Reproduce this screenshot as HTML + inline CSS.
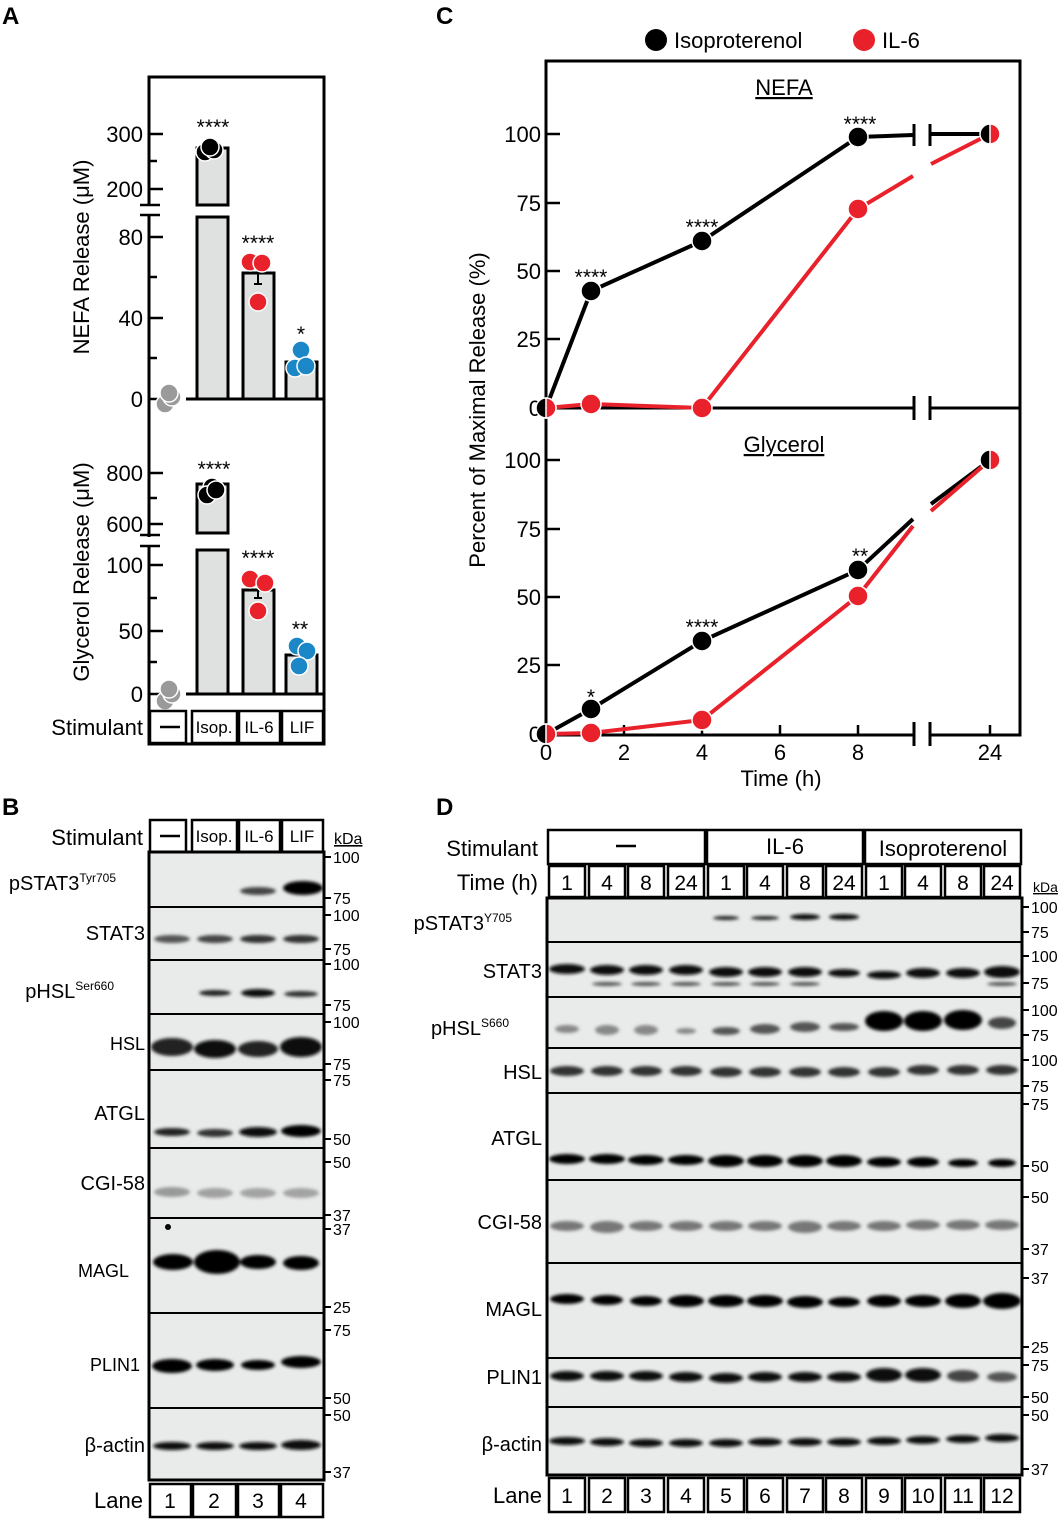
<!DOCTYPE html>
<html><head><meta charset="utf-8"><style>
html,body{margin:0;padding:0;background:#fff}
svg{display:block;font-family:"Liberation Sans",Arial,sans-serif}
</style></head><body>
<svg width="1063" height="1519" viewBox="0 0 1063 1519" xmlns="http://www.w3.org/2000/svg">
<defs>
<filter id="bl" x="-20%" y="-100%" width="140%" height="300%"><feGaussianBlur stdDeviation="1.6"/></filter>
</defs>
<g font-weight="bold" font-size="24">
<text x="2" y="24">A</text><text x="436" y="24">C</text><text x="2" y="815">B</text><text x="436" y="815">D</text>
</g>

<!-- ========== PANEL A ========== -->
<g>
<rect x="149" y="77" width="175" height="667" fill="none" stroke="#000" stroke-width="3"/>
<g fill="#dfe1e1" stroke="#000" stroke-width="3">
<rect x="197" y="148" width="31" height="57"/>
<rect x="197" y="217" width="31" height="182"/>
<rect x="243" y="273" width="31" height="126"/>
<rect x="286" y="362" width="31" height="37"/>
<rect x="197" y="484" width="31" height="49"/>
<rect x="197" y="550" width="31" height="144"/>
<rect x="243" y="590" width="31" height="104"/>
<rect x="286" y="655" width="31" height="39"/>
</g>
<line x1="186" y1="399" x2="324" y2="399" stroke="#000" stroke-width="3"/>
<line x1="186" y1="694" x2="324" y2="694" stroke="#000" stroke-width="3"/>
<rect x="140" y="206" width="20" height="8" fill="#fff"/>
<line x1="140" y1="205" x2="160" y2="205" stroke="#000" stroke-width="2.5"/>
<line x1="140" y1="215" x2="160" y2="215" stroke="#000" stroke-width="2.5"/>
<rect x="140" y="537" width="20" height="8" fill="#fff"/>
<line x1="140" y1="535" x2="160" y2="535" stroke="#000" stroke-width="2.5"/>
<line x1="140" y1="546" x2="160" y2="546" stroke="#000" stroke-width="2.5"/>
<g stroke="#000" stroke-width="2.5">
<line x1="149" y1="134" x2="163" y2="134"/><line x1="149" y1="161" x2="157" y2="161"/><line x1="149" y1="189" x2="163" y2="189"/>
<line x1="149" y1="237" x2="163" y2="237"/><line x1="149" y1="277" x2="157" y2="277"/><line x1="149" y1="318" x2="163" y2="318"/><line x1="149" y1="358" x2="157" y2="358"/><line x1="149" y1="399" x2="163" y2="399"/>
<line x1="149" y1="473" x2="163" y2="473"/><line x1="149" y1="498" x2="157" y2="498"/><line x1="149" y1="524" x2="163" y2="524"/>
<line x1="149" y1="565" x2="163" y2="565"/><line x1="149" y1="598" x2="157" y2="598"/><line x1="149" y1="631" x2="163" y2="631"/><line x1="149" y1="662" x2="157" y2="662"/><line x1="149" y1="694" x2="163" y2="694"/>
</g>
<g font-size="22" text-anchor="end">
<text x="143" y="142">300</text><text x="143" y="197">200</text><text x="143" y="245">80</text><text x="143" y="326">40</text><text x="143" y="407">0</text>
<text x="143" y="481">800</text><text x="143" y="532">600</text><text x="143" y="573">100</text><text x="143" y="639">50</text><text x="143" y="702">0</text>
</g>
<text transform="translate(89,257) rotate(-90)" font-size="22" text-anchor="middle">NEFA Release (μM)</text>
<text transform="translate(89,572) rotate(-90)" font-size="22" text-anchor="middle">Glycerol Release (μM)</text>
<g stroke="#fff" stroke-width="1.5">
<circle cx="165" cy="404" r="9" fill="#9a9a9a"/><circle cx="172" cy="397" r="9" fill="#9a9a9a"/><circle cx="169" cy="393" r="9" fill="#9a9a9a"/>
<circle cx="205" cy="152" r="9" fill="#000"/><circle cx="214" cy="150" r="9" fill="#000"/><circle cx="210" cy="147" r="9" fill="#000"/>
<circle cx="250" cy="262" r="9" fill="#e8212b"/><circle cx="262" cy="263" r="9" fill="#e8212b"/><circle cx="258" cy="302" r="9" fill="#e8212b"/>
<circle cx="301" cy="350" r="9" fill="#1b87c6"/><circle cx="295" cy="368" r="9" fill="#1b87c6"/><circle cx="306" cy="366" r="9" fill="#1b87c6"/>
<circle cx="165" cy="701" r="9" fill="#9a9a9a"/><circle cx="172" cy="694" r="9" fill="#9a9a9a"/><circle cx="169" cy="689" r="9" fill="#9a9a9a"/>
<circle cx="212" cy="487" r="9" fill="#000"/><circle cx="207" cy="495" r="9" fill="#000"/><circle cx="216" cy="490" r="9" fill="#000"/>
<circle cx="250" cy="579" r="9" fill="#e8212b"/><circle cx="265" cy="583" r="9" fill="#e8212b"/><circle cx="258" cy="611" r="9" fill="#e8212b"/>
<circle cx="297" cy="646" r="9" fill="#1b87c6"/><circle cx="307" cy="651" r="9" fill="#1b87c6"/><circle cx="299" cy="666" r="9" fill="#1b87c6"/>
</g>
<g stroke="#000" stroke-width="2"><line x1="258" y1="273" x2="258" y2="284"/><line x1="254" y1="284" x2="262" y2="284"/><line x1="258" y1="590" x2="258" y2="598"/><line x1="254" y1="598" x2="262" y2="598"/></g>
<g font-size="21" text-anchor="middle">
<text x="213" y="134">****</text><text x="258" y="250">****</text><text x="301" y="341">*</text>
<text x="214" y="476">****</text><text x="258" y="565">****</text><text x="300" y="636">**</text>
</g>
<g fill="none" stroke="#000" stroke-width="2.5">
<rect x="150" y="711" width="36" height="32"/><rect x="192" y="711" width="45" height="32"/><rect x="239" y="711" width="41" height="32"/><rect x="282" y="711" width="41" height="32"/>
</g>
<line x1="160" y1="727" x2="180" y2="727" stroke="#000" stroke-width="2.5"/>
<text x="143" y="735" font-size="22" text-anchor="end">Stimulant</text>
<g font-size="17" text-anchor="middle"><text x="214" y="733">Isop.</text><text x="259" y="733">IL-6</text><text x="302" y="733">LIF</text></g>
</g>

<!-- ========== PANEL C ========== -->
<g>
<circle cx="656" cy="40" r="11" fill="#000"/><text x="674" y="48" font-size="22">Isoproterenol</text>
<circle cx="864" cy="40" r="11" fill="#e8212b"/><text x="882" y="48" font-size="22">IL-6</text>
<rect x="546" y="61" width="474" height="674" fill="none" stroke="#000" stroke-width="3"/>
<line x1="546" y1="408" x2="1020" y2="408" stroke="#000" stroke-width="3"/>
<rect x="913" y="395" width="18" height="26" fill="#fff"/><rect x="913" y="722" width="18" height="26" fill="#fff"/>
<g stroke="#000" stroke-width="3">
<line x1="914" y1="396" x2="914" y2="420"/><line x1="930" y1="396" x2="930" y2="420"/>
<line x1="914" y1="722" x2="914" y2="746"/><line x1="930" y1="722" x2="930" y2="746"/>
<line x1="914" y1="124" x2="914" y2="146"/><line x1="930" y1="124" x2="930" y2="146"/>
</g>
<g stroke="#000" stroke-width="2.5">
<line x1="546" y1="134" x2="560" y2="134"/><line x1="546" y1="203" x2="560" y2="203"/><line x1="546" y1="271" x2="560" y2="271"/><line x1="546" y1="339" x2="560" y2="339"/>
<line x1="546" y1="460" x2="560" y2="460"/><line x1="546" y1="529" x2="560" y2="529"/><line x1="546" y1="597" x2="560" y2="597"/><line x1="546" y1="665" x2="560" y2="665"/>
<line x1="624" y1="735" x2="624" y2="725"/><line x1="702" y1="735" x2="702" y2="725"/><line x1="780" y1="735" x2="780" y2="725"/><line x1="858" y1="735" x2="858" y2="725"/><line x1="990" y1="735" x2="990" y2="725"/>
</g>
<g font-size="22" text-anchor="end">
<text x="541" y="142">100</text><text x="541" y="211">75</text><text x="541" y="279">50</text><text x="541" y="347">25</text><text x="541" y="416">0</text>
<text x="541" y="468">100</text><text x="541" y="537">75</text><text x="541" y="605">50</text><text x="541" y="673">25</text><text x="541" y="742">0</text>
</g>
<g font-size="22" text-anchor="middle">
<text x="546" y="760">0</text><text x="624" y="760">2</text><text x="702" y="760">4</text><text x="780" y="760">6</text><text x="858" y="760">8</text><text x="990" y="760">24</text>
<text x="781" y="786">Time (h)</text>
<text x="784" y="95" text-decoration="underline">NEFA</text>
<text x="784" y="452" text-decoration="underline">Glycerol</text>
</g>
<text transform="translate(485,410) rotate(-90)" font-size="22" text-anchor="middle">Percent of Maximal Release (%)</text>
<g fill="none" stroke-width="4">
<polyline points="546,408 591,291 702,241 858,137 913,135" stroke="#000"/>
<polyline points="931,134 990,134" stroke="#000"/>
<polyline points="546,408 591,404 702,408 858,209 913,176" stroke="#e8212b"/>
<polyline points="931,164 990,134" stroke="#e8212b"/>
<polyline points="546,734 591,709 702,641 858,570 913,519" stroke="#000"/>
<polyline points="931,504 990,460" stroke="#000"/>
<polyline points="546,734 591,733 702,720 858,596 913,526" stroke="#e8212b"/>
<polyline points="931,511 990,460" stroke="#e8212b"/>
</g>
<g stroke="#000" stroke-width="2">
<line x1="858" y1="128" x2="858" y2="146"/><line x1="702" y1="233" x2="702" y2="250"/><line x1="858" y1="200" x2="858" y2="219"/><line x1="990" y1="126" x2="990" y2="143"/>
<line x1="702" y1="632" x2="702" y2="651"/><line x1="858" y1="561" x2="858" y2="579"/><line x1="858" y1="587" x2="858" y2="606"/><line x1="990" y1="451" x2="990" y2="470"/>
<line x1="591" y1="395" x2="591" y2="413"/><line x1="702" y1="711" x2="702" y2="729"/>
</g>
<g stroke="#fff" stroke-width="1.5">
<circle cx="591" cy="291" r="10" fill="#000"/><circle cx="702" cy="241" r="10" fill="#000"/><circle cx="858" cy="137" r="10" fill="#000"/>
<circle cx="591" cy="404" r="10" fill="#e8212b"/><circle cx="702" cy="408" r="10" fill="#e8212b"/><circle cx="858" cy="209" r="10" fill="#e8212b"/>
<circle cx="546" cy="408" r="10" fill="#000"/><path d="M546,398 A10,10 0 0 1 546,418 Z" fill="#e8212b"/>
<circle cx="990" cy="134" r="10" fill="#000"/><path d="M990,124 A10,10 0 0 1 990,144 Z" fill="#e8212b"/>
<circle cx="591" cy="709" r="10" fill="#000"/><circle cx="702" cy="641" r="10" fill="#000"/><circle cx="858" cy="570" r="10" fill="#000"/>
<circle cx="591" cy="733" r="10" fill="#e8212b"/><circle cx="702" cy="720" r="10" fill="#e8212b"/><circle cx="858" cy="596" r="10" fill="#e8212b"/>
<circle cx="546" cy="734" r="10" fill="#000"/><path d="M546,724 A10,10 0 0 1 546,744 Z" fill="#e8212b"/>
<circle cx="990" cy="460" r="10" fill="#000"/><path d="M990,450 A10,10 0 0 1 990,470 Z" fill="#e8212b"/>
</g>
<g font-size="21" text-anchor="middle">
<text x="591" y="284">****</text><text x="702" y="234">****</text><text x="860" y="131">****</text>
<text x="591" y="704">*</text><text x="702" y="634">****</text><text x="860" y="563">**</text>
</g>
</g>

<!-- ========== PANEL B ========== -->
<g>
<rect x="149" y="852" width="175" height="628" fill="#e9ebeb"/>
<g fill="none" stroke="#000" stroke-width="2.5">
<rect x="150" y="820" width="36" height="32"/><rect x="192" y="820" width="45" height="32"/><rect x="239" y="820" width="41" height="32"/><rect x="282" y="820" width="41" height="32"/>
<rect x="149" y="852" width="175" height="628" stroke-width="3"/>
<rect x="150" y="1484" width="41" height="33"/><rect x="193" y="1484" width="43" height="33"/><rect x="238" y="1484" width="41" height="33"/><rect x="281" y="1484" width="42" height="33"/>
</g>
<g stroke="#000" stroke-width="2">
<line x1="149" y1="907" x2="324" y2="907"/><line x1="149" y1="960" x2="324" y2="960"/><line x1="149" y1="1014" x2="324" y2="1014"/><line x1="149" y1="1070" x2="324" y2="1070"/>
<line x1="149" y1="1148" x2="324" y2="1148"/><line x1="149" y1="1218" x2="324" y2="1218"/><line x1="149" y1="1313" x2="324" y2="1313"/><line x1="149" y1="1408" x2="324" y2="1408"/>
</g>
<line x1="160" y1="836" x2="180" y2="836" stroke="#000" stroke-width="2.5"/>
<g font-size="17" text-anchor="middle"><text x="214" y="842">Isop.</text><text x="259" y="842">IL-6</text><text x="302" y="842">LIF</text>
<text x="170" y="1508" font-size="21">1</text><text x="214" y="1508" font-size="21">2</text><text x="258" y="1508" font-size="21">3</text><text x="301" y="1508" font-size="21">4</text></g>
<g font-size="22" text-anchor="end"><text x="143" y="845">Stimulant</text><text x="143" y="1508">Lane</text></g>
<g font-size="20" text-anchor="end">
<text x="116" y="890">pSTAT3<tspan font-size="12" dy="-8">Tyr705</tspan></text>
<text x="145" y="940">STAT3</text>
<text x="114" y="998">pHSL<tspan font-size="12" dy="-8">Ser660</tspan></text>
<text x="145" y="1050" font-size="18">HSL</text>
<text x="145" y="1120">ATGL</text>
<text x="145" y="1190">CGI-58</text>
<text x="129" y="1277" font-size="18">MAGL</text>
<text x="140" y="1371" font-size="18">PLIN1</text>
<text x="145" y="1452">β-actin</text>
</g>
<g filter="url(#bl)">
<ellipse cx="258" cy="891" rx="18" ry="4" fill="#444"/><ellipse cx="303" cy="888" rx="20" ry="7" fill="#000"/>
<ellipse cx="172" cy="939" rx="18" ry="4" fill="#555"/><ellipse cx="215" cy="939" rx="18" ry="4" fill="#444"/><ellipse cx="258" cy="939" rx="18" ry="4" fill="#333"/><ellipse cx="301" cy="939" rx="18" ry="4" fill="#333"/>
<ellipse cx="215" cy="993" rx="16" ry="3" fill="#222"/><ellipse cx="258" cy="993" rx="17" ry="4" fill="#111"/><ellipse cx="301" cy="994" rx="17" ry="3" fill="#333"/>
<ellipse cx="172" cy="1047" rx="21" ry="9" fill="#222"/><ellipse cx="215" cy="1049" rx="21" ry="9" fill="#111"/><ellipse cx="258" cy="1049" rx="20" ry="8" fill="#222"/><ellipse cx="301" cy="1047" rx="21" ry="10" fill="#111"/>
<ellipse cx="172" cy="1132" rx="18" ry="4" fill="#222"/><ellipse cx="215" cy="1133" rx="18" ry="4" fill="#333"/><ellipse cx="258" cy="1132" rx="19" ry="5" fill="#111"/><ellipse cx="301" cy="1131" rx="20" ry="6" fill="#000"/>
<ellipse cx="172" cy="1192" rx="18" ry="5" fill="#999"/><ellipse cx="215" cy="1193" rx="18" ry="5" fill="#a0a0a0"/><ellipse cx="258" cy="1193" rx="18" ry="5" fill="#a3a3a3"/><ellipse cx="301" cy="1193" rx="18" ry="5" fill="#a3a3a3"/>
<ellipse cx="173" cy="1262" rx="20" ry="8" fill="#000"/><ellipse cx="217" cy="1262" rx="23" ry="12" fill="#000"/><ellipse cx="258" cy="1262" rx="18" ry="7" fill="#000"/><ellipse cx="301" cy="1263" rx="18" ry="7" fill="#000"/>
<ellipse cx="172" cy="1366" rx="20" ry="7" fill="#000"/><ellipse cx="215" cy="1365" rx="19" ry="6" fill="#000"/><ellipse cx="258" cy="1365" rx="17" ry="5" fill="#000"/><ellipse cx="301" cy="1362" rx="20" ry="6" fill="#000"/>
<ellipse cx="172" cy="1446" rx="19" ry="4" fill="#111"/><ellipse cx="215" cy="1446" rx="19" ry="4" fill="#111"/><ellipse cx="258" cy="1446" rx="19" ry="4" fill="#111"/><ellipse cx="301" cy="1445" rx="20" ry="5" fill="#111"/>
</g>
<circle cx="168" cy="1227" r="3" fill="#000"/>
<g stroke="#000" stroke-width="2">
<line x1="324" y1="857" x2="331" y2="857"/><line x1="324" y1="898" x2="331" y2="898"/><line x1="324" y1="915" x2="331" y2="915"/><line x1="324" y1="949" x2="331" y2="949"/>
<line x1="324" y1="964" x2="331" y2="964"/><line x1="324" y1="1005" x2="331" y2="1005"/><line x1="324" y1="1022" x2="331" y2="1022"/><line x1="324" y1="1064" x2="331" y2="1064"/>
<line x1="324" y1="1080" x2="331" y2="1080"/><line x1="324" y1="1139" x2="331" y2="1139"/><line x1="324" y1="1162" x2="331" y2="1162"/><line x1="324" y1="1215" x2="331" y2="1215"/>
<line x1="324" y1="1229" x2="331" y2="1229"/><line x1="324" y1="1307" x2="331" y2="1307"/><line x1="324" y1="1330" x2="331" y2="1330"/><line x1="324" y1="1398" x2="331" y2="1398"/>
<line x1="324" y1="1415" x2="331" y2="1415"/><line x1="324" y1="1472" x2="331" y2="1472"/>
</g>
<g font-size="16">
<text x="334" y="844" text-decoration="underline">kDa</text>
<text x="333" y="863">100</text><text x="333" y="904">75</text><text x="333" y="921">100</text><text x="333" y="955">75</text><text x="333" y="970">100</text><text x="333" y="1011">75</text>
<text x="333" y="1028">100</text><text x="333" y="1070">75</text><text x="333" y="1086">75</text><text x="333" y="1145">50</text><text x="333" y="1168">50</text><text x="333" y="1221">37</text>
<text x="333" y="1235">37</text><text x="333" y="1313">25</text><text x="333" y="1336">75</text><text x="333" y="1404">50</text><text x="333" y="1421">50</text><text x="333" y="1478">37</text>
</g>
</g>

<!-- ========== PANEL D ========== -->
<g>
<rect x="547" y="898" width="475" height="577" fill="#e9ebeb"/>
<g fill="none" stroke="#000" stroke-width="2.5">
<rect x="548" y="830" width="157" height="34"/><rect x="707" y="830" width="156" height="34"/><rect x="865" y="830" width="156" height="34"/>
<rect x="547" y="898" width="475" height="577" stroke-width="3"/>
</g>
<g font-size="22" text-anchor="end"><text x="538" y="856">Stimulant</text><text x="538" y="890">Time (h)</text><text x="542" y="1503">Lane</text></g>
<line x1="616" y1="846" x2="636" y2="846" stroke="#000" stroke-width="2.5"/>
<g font-size="22" text-anchor="middle"><text x="785" y="854">IL-6</text><text x="943" y="856">Isoproterenol</text></g>
<g fill="none" stroke="#000" stroke-width="2.5">
<rect x="549" y="866" width="36" height="31"/><rect x="589" y="866" width="36" height="31"/><rect x="628" y="866" width="36" height="31"/><rect x="668" y="866" width="36" height="31"/>
<rect x="708" y="866" width="36" height="31"/><rect x="747" y="866" width="36" height="31"/><rect x="787" y="866" width="36" height="31"/><rect x="826" y="866" width="36" height="31"/>
<rect x="866" y="866" width="36" height="31"/><rect x="905" y="866" width="36" height="31"/><rect x="945" y="866" width="36" height="31"/><rect x="984" y="866" width="36" height="31"/>
<rect x="549" y="1478" width="36" height="34"/><rect x="589" y="1478" width="36" height="34"/><rect x="628" y="1478" width="36" height="34"/><rect x="668" y="1478" width="36" height="34"/>
<rect x="708" y="1478" width="36" height="34"/><rect x="747" y="1478" width="36" height="34"/><rect x="787" y="1478" width="36" height="34"/><rect x="826" y="1478" width="36" height="34"/>
<rect x="866" y="1478" width="36" height="34"/><rect x="905" y="1478" width="36" height="34"/><rect x="945" y="1478" width="36" height="34"/><rect x="984" y="1478" width="36" height="34"/>
</g>
<g font-size="21" text-anchor="middle">
<text x="567" y="890">1</text><text x="607" y="890">4</text><text x="646" y="890">8</text><text x="686" y="890">24</text>
<text x="726" y="890">1</text><text x="765" y="890">4</text><text x="805" y="890">8</text><text x="844" y="890">24</text>
<text x="884" y="890">1</text><text x="923" y="890">4</text><text x="963" y="890">8</text><text x="1002" y="890">24</text>
<text x="567" y="1503">1</text><text x="607" y="1503">2</text><text x="646" y="1503">3</text><text x="686" y="1503">4</text>
<text x="726" y="1503">5</text><text x="765" y="1503">6</text><text x="805" y="1503">7</text><text x="844" y="1503">8</text>
<text x="884" y="1503">9</text><text x="923" y="1503">10</text><text x="963" y="1503">11</text><text x="1002" y="1503">12</text>
</g>
<g stroke="#000" stroke-width="2">
<line x1="547" y1="942" x2="1022" y2="942"/><line x1="547" y1="997" x2="1022" y2="997"/><line x1="547" y1="1048" x2="1022" y2="1048"/><line x1="547" y1="1093" x2="1022" y2="1093"/>
<line x1="547" y1="1180" x2="1022" y2="1180"/><line x1="547" y1="1263" x2="1022" y2="1263"/><line x1="547" y1="1358" x2="1022" y2="1358"/><line x1="547" y1="1407" x2="1022" y2="1407"/>
</g>
<g font-size="20" text-anchor="end">
<text x="512" y="930">pSTAT3<tspan font-size="12" dy="-8">Y705</tspan></text>
<text x="542" y="978">STAT3</text>
<text x="509" y="1035">pHSL<tspan font-size="12" dy="-8">S660</tspan></text>
<text x="542" y="1079">HSL</text>
<text x="542" y="1145">ATGL</text>
<text x="542" y="1229">CGI-58</text>
<text x="542" y="1316">MAGL</text>
<text x="542" y="1384">PLIN1</text>
<text x="542" y="1451">β-actin</text>
</g>
<g filter="url(#bl)">
<ellipse cx="726" cy="918" rx="13" ry="2" fill="#222"/><ellipse cx="765" cy="918" rx="14" ry="2" fill="#222"/><ellipse cx="805" cy="917" rx="15" ry="3" fill="#111"/><ellipse cx="844" cy="917" rx="15" ry="3" fill="#111"/>
<g fill="#111">
<ellipse cx="567" cy="969" rx="18" ry="5"/><ellipse cx="607" cy="970" rx="17" ry="5"/><ellipse cx="646" cy="970" rx="17" ry="5"/><ellipse cx="686" cy="970" rx="17" ry="5"/>
<ellipse cx="726" cy="972" rx="17" ry="5"/><ellipse cx="765" cy="972" rx="17" ry="5"/><ellipse cx="805" cy="972" rx="17" ry="5"/><ellipse cx="844" cy="973" rx="16" ry="4"/>
<ellipse cx="884" cy="975" rx="17" ry="4"/><ellipse cx="923" cy="973" rx="17" ry="5"/><ellipse cx="963" cy="973" rx="17" ry="5"/><ellipse cx="1002" cy="972" rx="18" ry="6"/>
</g>
<g fill="#555">
<ellipse cx="607" cy="984" rx="15" ry="2"/><ellipse cx="646" cy="984" rx="15" ry="2"/><ellipse cx="686" cy="984" rx="15" ry="2"/><ellipse cx="726" cy="984" rx="15" ry="2"/><ellipse cx="765" cy="984" rx="15" ry="2"/><ellipse cx="805" cy="984" rx="15" ry="2"/><ellipse cx="1002" cy="984" rx="15" ry="2"/>
</g>
<g fill="#888">
<ellipse cx="567" cy="1029" rx="12" ry="4"/><ellipse cx="607" cy="1030" rx="12" ry="5"/><ellipse cx="646" cy="1030" rx="12" ry="5"/><ellipse cx="686" cy="1031" rx="10" ry="3"/>
</g>
<g fill="#555">
<ellipse cx="726" cy="1031" rx="14" ry="4"/><ellipse cx="765" cy="1029" rx="15" ry="5"/><ellipse cx="805" cy="1027" rx="15" ry="5"/><ellipse cx="844" cy="1027" rx="15" ry="4"/>
</g>
<g fill="#000">
<ellipse cx="884" cy="1021" rx="19" ry="10"/><ellipse cx="923" cy="1021" rx="19" ry="10"/><ellipse cx="963" cy="1020" rx="19" ry="10"/>
</g>
<ellipse cx="1002" cy="1023" rx="14" ry="6" fill="#444"/>
<g fill="#333">
<ellipse cx="567" cy="1071" rx="17" ry="5"/><ellipse cx="607" cy="1071" rx="16" ry="5"/><ellipse cx="646" cy="1071" rx="16" ry="5"/><ellipse cx="686" cy="1071" rx="16" ry="5"/>
<ellipse cx="726" cy="1072" rx="16" ry="5"/><ellipse cx="765" cy="1072" rx="16" ry="5"/><ellipse cx="805" cy="1072" rx="16" ry="5"/><ellipse cx="844" cy="1072" rx="16" ry="5"/>
<ellipse cx="884" cy="1072" rx="16" ry="5"/><ellipse cx="923" cy="1070" rx="16" ry="5"/><ellipse cx="963" cy="1070" rx="16" ry="5"/><ellipse cx="1002" cy="1070" rx="16" ry="5"/>
</g>
<g fill="#000">
<ellipse cx="567" cy="1159" rx="18" ry="5"/><ellipse cx="607" cy="1159" rx="18" ry="5"/><ellipse cx="646" cy="1160" rx="18" ry="5"/><ellipse cx="686" cy="1160" rx="18" ry="5"/>
<ellipse cx="726" cy="1161" rx="18" ry="6"/><ellipse cx="765" cy="1161" rx="18" ry="6"/><ellipse cx="805" cy="1161" rx="18" ry="6"/><ellipse cx="844" cy="1161" rx="18" ry="6"/>
<ellipse cx="884" cy="1162" rx="17" ry="5"/><ellipse cx="923" cy="1162" rx="16" ry="5"/><ellipse cx="963" cy="1163" rx="15" ry="4"/><ellipse cx="1002" cy="1163" rx="14" ry="4"/>
</g>
<g fill="#777">
<ellipse cx="567" cy="1226" rx="17" ry="5"/><ellipse cx="607" cy="1227" rx="17" ry="6"/><ellipse cx="646" cy="1226" rx="17" ry="5"/><ellipse cx="686" cy="1226" rx="17" ry="5"/>
<ellipse cx="726" cy="1226" rx="17" ry="5"/><ellipse cx="765" cy="1226" rx="17" ry="5"/><ellipse cx="805" cy="1227" rx="17" ry="6"/><ellipse cx="844" cy="1226" rx="17" ry="5"/>
<ellipse cx="884" cy="1226" rx="17" ry="5"/><ellipse cx="923" cy="1225" rx="17" ry="5"/><ellipse cx="963" cy="1225" rx="17" ry="5"/><ellipse cx="1002" cy="1225" rx="17" ry="5"/>
</g>
<g fill="#000">
<ellipse cx="567" cy="1299" rx="17" ry="5"/><ellipse cx="607" cy="1300" rx="16" ry="5"/><ellipse cx="646" cy="1301" rx="16" ry="5"/><ellipse cx="686" cy="1301" rx="18" ry="6"/>
<ellipse cx="726" cy="1301" rx="18" ry="6"/><ellipse cx="765" cy="1301" rx="18" ry="6"/><ellipse cx="805" cy="1302" rx="18" ry="6"/><ellipse cx="844" cy="1302" rx="16" ry="5"/>
<ellipse cx="884" cy="1301" rx="17" ry="6"/><ellipse cx="923" cy="1301" rx="18" ry="6"/><ellipse cx="963" cy="1301" rx="18" ry="7"/><ellipse cx="1002" cy="1301" rx="19" ry="8"/>
</g>
<g fill="#111">
<ellipse cx="567" cy="1376" rx="17" ry="5"/><ellipse cx="607" cy="1376" rx="17" ry="5"/><ellipse cx="646" cy="1376" rx="17" ry="5"/><ellipse cx="686" cy="1377" rx="17" ry="5"/>
<ellipse cx="726" cy="1378" rx="17" ry="5"/><ellipse cx="765" cy="1377" rx="17" ry="5"/><ellipse cx="805" cy="1377" rx="17" ry="5"/><ellipse cx="844" cy="1377" rx="17" ry="5"/>
<ellipse cx="884" cy="1375" rx="18" ry="7"/><ellipse cx="923" cy="1375" rx="18" ry="7"/>
</g>
<ellipse cx="963" cy="1376" rx="16" ry="6" fill="#444"/><ellipse cx="1002" cy="1377" rx="15" ry="5" fill="#555"/>
<g fill="#111">
<ellipse cx="567" cy="1441" rx="18" ry="4"/><ellipse cx="607" cy="1442" rx="17" ry="4"/><ellipse cx="646" cy="1443" rx="17" ry="4"/><ellipse cx="686" cy="1443" rx="17" ry="4"/>
<ellipse cx="726" cy="1443" rx="17" ry="4"/><ellipse cx="765" cy="1442" rx="17" ry="4"/><ellipse cx="805" cy="1442" rx="17" ry="4"/><ellipse cx="844" cy="1442" rx="17" ry="4"/>
<ellipse cx="884" cy="1441" rx="17" ry="4"/><ellipse cx="923" cy="1440" rx="17" ry="4"/><ellipse cx="963" cy="1439" rx="17" ry="4"/><ellipse cx="1002" cy="1438" rx="17" ry="4"/>
</g>
</g>
<g stroke="#000" stroke-width="2">
<line x1="1022" y1="907" x2="1029" y2="907"/><line x1="1022" y1="932" x2="1029" y2="932"/><line x1="1022" y1="956" x2="1029" y2="956"/><line x1="1022" y1="983" x2="1029" y2="983"/>
<line x1="1022" y1="1010" x2="1029" y2="1010"/><line x1="1022" y1="1035" x2="1029" y2="1035"/><line x1="1022" y1="1060" x2="1029" y2="1060"/><line x1="1022" y1="1086" x2="1029" y2="1086"/>
<line x1="1022" y1="1104" x2="1029" y2="1104"/><line x1="1022" y1="1166" x2="1029" y2="1166"/><line x1="1022" y1="1197" x2="1029" y2="1197"/><line x1="1022" y1="1249" x2="1029" y2="1249"/>
<line x1="1022" y1="1278" x2="1029" y2="1278"/><line x1="1022" y1="1347" x2="1029" y2="1347"/><line x1="1022" y1="1365" x2="1029" y2="1365"/><line x1="1022" y1="1397" x2="1029" y2="1397"/>
<line x1="1022" y1="1415" x2="1029" y2="1415"/><line x1="1022" y1="1469" x2="1029" y2="1469"/>
</g>
<g font-size="16">
<text x="1033" y="892" text-decoration="underline" font-size="14">kDa</text>
<text x="1031" y="913">100</text><text x="1031" y="938">75</text><text x="1031" y="962">100</text><text x="1031" y="989">75</text>
<text x="1031" y="1016">100</text><text x="1031" y="1041">75</text><text x="1031" y="1066">100</text><text x="1031" y="1092">75</text>
<text x="1031" y="1110">75</text><text x="1031" y="1172">50</text><text x="1031" y="1203">50</text><text x="1031" y="1255">37</text>
<text x="1031" y="1284">37</text><text x="1031" y="1353">25</text><text x="1031" y="1371">75</text><text x="1031" y="1403">50</text>
<text x="1031" y="1421">50</text><text x="1031" y="1475">37</text>
</g>
</g>
</svg>
</body></html>
